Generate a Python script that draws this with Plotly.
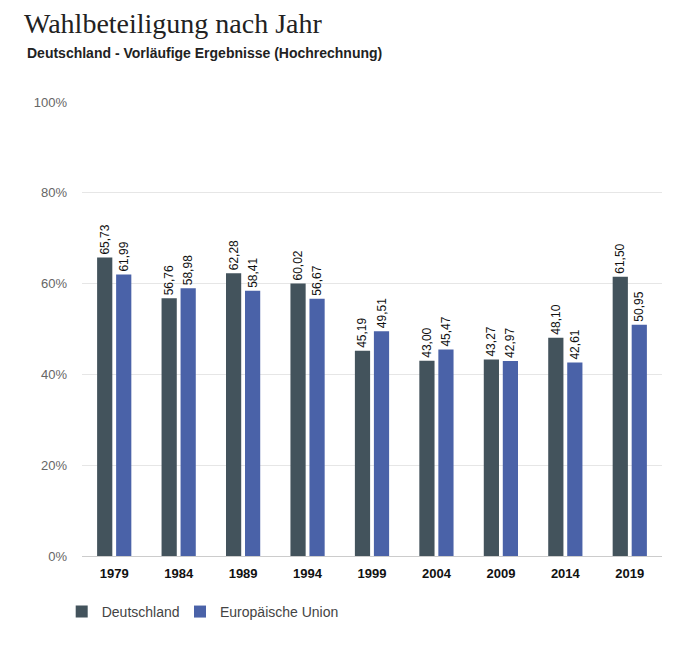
import plotly.graph_objects as go

years = ["1979", "1984", "1989", "1994", "1999", "2004", "2009", "2014", "2019"]
deutschland = [65.73, 56.76, 62.28, 60.02, 45.19, 43.00, 43.27, 48.10, 61.50]
eu = [61.99, 58.98, 58.41, 56.67, 49.51, 45.47, 42.97, 42.61, 50.95]
y_ticks = [0, 20, 40, 60, 80, 100]

def fmt(v):
    return f"{v:.2f}".replace(".", ",")

fig = go.Figure()
fig.add_trace(go.Bar(
    x=years, y=deutschland, name="Deutschland", legend="legend",
    marker=dict(color="#43535c", line=dict(width=0)),
    text=[fmt(v) for v in deutschland], textposition="outside", textangle=-90,
    textfont=dict(family="Liberation Sans, Arial", size=12, color="#111"),
    constraintext="none", cliponaxis=False,
))
fig.add_trace(go.Bar(
    x=years, y=eu, name="Europäische Union", legend="legend2",
    marker=dict(color="#4a62a8", line=dict(width=0)),
    text=[fmt(v) for v in eu], textposition="outside", textangle=-90,
    textfont=dict(family="Liberation Sans, Arial", size=12, color="#111"),
    constraintext="none", cliponaxis=False,
))

legend_common = dict(orientation="h", xanchor="left", y=-0.088, yanchor="top",
                     font=dict(size=14, color="#444"), itemwidth=30,
                     bgcolor="rgba(0,0,0,0)")

fig.update_layout(
    width=697, height=659,
    margin=dict(l=82, r=35, t=102, b=103),
    paper_bgcolor="white", plot_bgcolor="white",
    barmode="group", bargap=0.41, bargroupgap=0.2,
    font=dict(family="Liberation Sans, Arial", color="#444"),
    showlegend=True,
    legend=dict(x=-0.035, **legend_common),
    legend2=dict(x=(180 - 82) / 580, **legend_common),
    xaxis=dict(
        type="category", showgrid=False, ticks="", showline=False,
        ticklabelstandoff=8,
        tickfont=dict(family="Liberation Sans, Arial", size=13, color="#111", weight="bold"),
    ),
    yaxis=dict(
        range=[0, 100], tickvals=y_ticks, ticktext=[f"{t}%" for t in y_ticks],
        showgrid=True, gridcolor="#e6e6e6", gridwidth=1,
        zeroline=True, zerolinecolor="#cccccc", zerolinewidth=1,
        tickfont=dict(size=13, color="#666"), ticks="", ticklabelstandoff=14,
    ),
    annotations=[
        dict(text="Wahlbeteiligung nach Jahr", xref="paper", yref="paper",
             x=(22 - 82) / 580, y=1 + (102 - 6) / 454, xanchor="left", yanchor="top",
             showarrow=False, font=dict(family="Liberation Serif, Times New Roman, serif", size=28, color="#222")),
        dict(text="<b>Deutschland - Vorläufige Ergebnisse (Hochrechnung)</b>", xref="paper", yref="paper",
             x=(25 - 82) / 580, y=1 + (102 - 43) / 454, xanchor="left", yanchor="top",
             showarrow=False, font=dict(family="Liberation Sans, Arial", size=14, color="#222")),
    ],
)

fig.write_html("out.html")
